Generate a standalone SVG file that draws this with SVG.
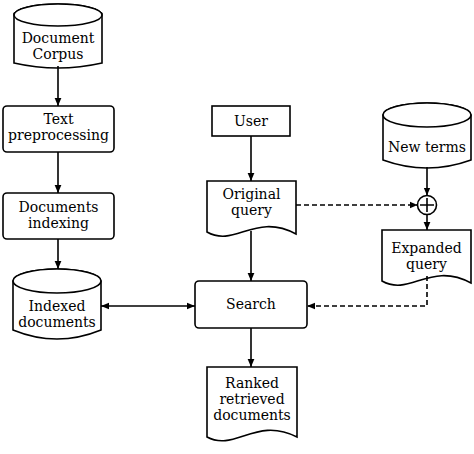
<svg xmlns="http://www.w3.org/2000/svg" width="474" height="454" viewBox="0 0 474 454">
<style>
.s{fill:#fff;stroke:#000;stroke-width:1.6}
.t{font-family:"DejaVu Serif","Liberation Serif",serif;font-size:14px;fill:#000;text-anchor:middle}
.c{fill:none;stroke:#000;stroke-width:1.6}
.d{stroke-dasharray:5,3}
</style>
<defs>
<marker id="a" viewBox="0 0 10 10" refX="10" refY="5" markerWidth="8" markerHeight="8" markerUnits="userSpaceOnUse" orient="auto-start-reverse">
<path d="M0,0.8 L10,5 L0,9.2 Z" fill="#000"/>
</marker>
</defs>
<rect width="474" height="454" fill="#fff"/>
<g id="corpus">
<path class="s" d="M14,15 L14,63 Q58,73 102,63 L102,15 A44,11 0 0 0 14,15 Z"/>
<ellipse class="s" cx="58" cy="15" rx="44" ry="11"/>
<text class="t" x="58" y="43">Document</text>
<text class="t" x="58" y="59">Corpus</text>
</g>
<g id="preproc">
<rect class="s" x="3" y="106" width="111" height="46" rx="4"/>
<text class="t" x="58.5" y="124">Text</text>
<text class="t" x="58.5" y="140">preprocessing</text>
</g>
<g id="indexing">
<rect class="s" x="3" y="193" width="111" height="46" rx="4"/>
<text class="t" x="58.5" y="212">Documents</text>
<text class="t" x="58.5" y="228">indexing</text>
</g>
<g id="indexed">
<path class="s" d="M13,281 L13,330 Q57,348 101,330 L101,281 A44,12 0 0 0 13,281 Z"/>
<ellipse class="s" cx="57" cy="281" rx="44" ry="12"/>
<text class="t" x="57" y="311">Indexed</text>
<text class="t" x="57" y="327">documents</text>
</g>
<g id="user">
<rect class="s" x="212" y="106" width="78" height="30"/>
<text class="t" x="251" y="126">User</text>
</g>
<g id="original">
<path class="s" d="M207,181 L296,181 L296,234 C255,212 235,248 207,232 Z"/>
<text class="t" x="251.5" y="199">Original</text>
<text class="t" x="251.5" y="215">query</text>
</g>
<g id="search">
<rect class="s" x="195" y="281" width="112" height="47" rx="4"/>
<text class="t" x="251" y="309">Search</text>
</g>
<g id="ranked">
<path class="s" d="M207,367 L297,367 L297,437 C256,416 235,452 207,437 Z"/>
<text class="t" x="252" y="388">Ranked</text>
<text class="t" x="252" y="404">retrieved</text>
<text class="t" x="252" y="420">documents</text>
</g>
<g id="newterms">
<path class="s" d="M383,115 L383,160 Q427,176 471,160 L471,115 A44,12 0 0 0 383,115 Z"/>
<ellipse class="s" cx="427" cy="115" rx="44" ry="12"/>
<text class="t" x="427" y="152">New terms</text>
</g>
<g id="plus">
<circle class="s" cx="427" cy="205" r="9.5"/>
<path class="c" d="M420,205 H434 M427,198 V212"/>
</g>
<g id="expanded">
<path class="s" d="M382,230 L471,230 L471,283 C430,261 410,297 382,281 Z"/>
<text class="t" x="426.5" y="253">Expanded</text>
<text class="t" x="426.5" y="269">query</text>
</g>
<g id="connectors">
<path class="c" d="M58,66 V106" marker-end="url(#a)"/>
<path class="c" d="M58,152 V193" marker-end="url(#a)"/>
<path class="c" d="M58,239 V269" marker-end="url(#a)"/>
<path class="c" d="M251,136 V181" marker-end="url(#a)"/>
<path class="c" d="M251,231 V281" marker-end="url(#a)"/>
<path class="c" d="M251,328 V367" marker-end="url(#a)"/>
<path class="c" d="M101,306 H195" marker-start="url(#a)" marker-end="url(#a)"/>
<path class="c" d="M427,167 V195.5" marker-end="url(#a)"/>
<path class="c" d="M427,214.5 V230" marker-end="url(#a)"/>
<path class="c d" d="M296,205 H417.5" marker-end="url(#a)"/>
<path class="c d" d="M427,276 V306 H307" marker-end="url(#a)"/>
</g>
</svg>
